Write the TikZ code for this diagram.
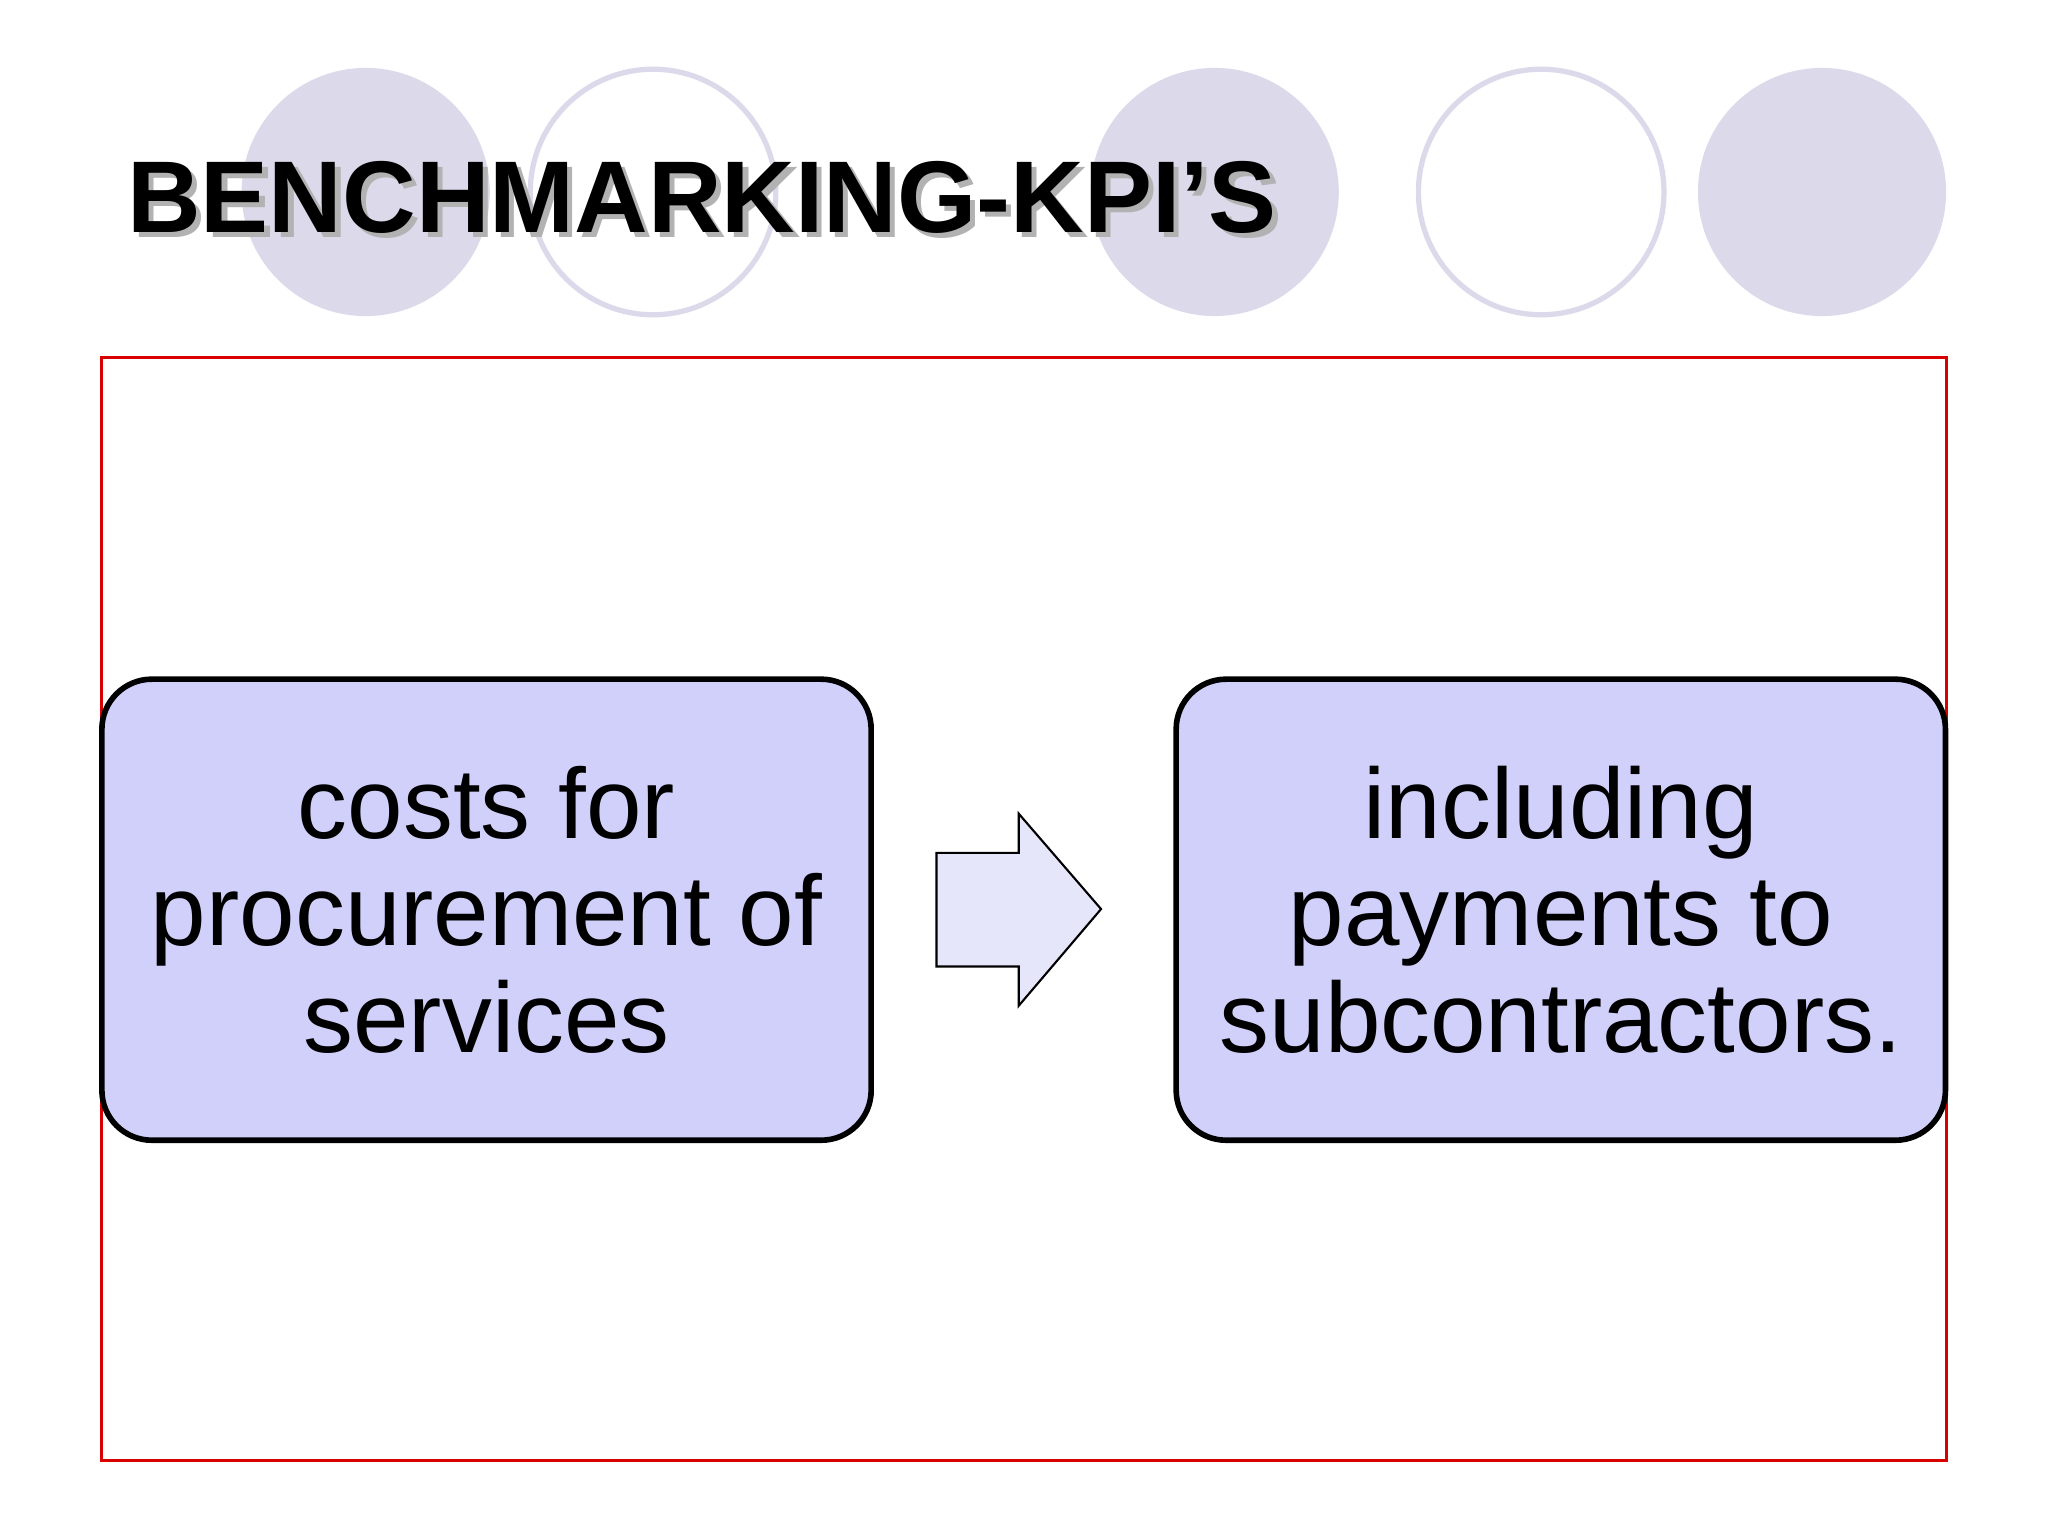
\documentclass[tikz,border=0pt]{standalone}
\usepackage{fontspec}
\setmainfont{Liberation Sans}
\definecolor{circ}{HTML}{DCDAEA}
\definecolor{boxfill}{HTML}{D0D0FA}
\definecolor{arrfill}{HTML}{E6E6FA}
\begin{document}
\begin{tikzpicture}[x=0.01306cm,y=-0.01306cm,
  fcirc/.style={circle,fill=circ,minimum size=190*0.01306cm,inner sep=0},
  ocirc/.style={circle,draw=circ,line width=1.5pt,fill=white,minimum size=188*0.01306cm,inner sep=0},
  kbox/.style={draw=black,line width=1.6pt,fill=boxfill,rounded corners=0.5cm,minimum width=589*0.01306cm,minimum height=353*0.01306cm,align=center,font=\fontsize{28.4}{30.5}\selectfont}]
\useasboundingbox (0,0) rectangle (1568,1176);
\fill[white] (0,0) rectangle (1568,1176);
\node[fcirc] (c1) at (280,147) {};
\node[ocirc] (c2) at (500,147) {};
\node[fcirc] (c3) at (930,147) {};
\node[ocirc] (c4) at (1180,147) {};
\node[fcirc] (c5) at (1395,147) {};
\node[anchor=base west,inner sep=0,font=\fontsize{29}{34}\selectfont\bfseries,text=gray!60] at (101,182) {BENCHMARKING-KPI’S};
\node[anchor=base west,inner sep=0,font=\fontsize{29}{34}\selectfont\bfseries] (title) at (97,178) {BENCHMARKING-KPI’S};
\draw[red!85!black,line width=0.8pt] (78,274) rectangle (1490,1118);
\node[kbox] (a) at (372.5,696.5) {costs for\\procurement of\\services};
\node[kbox] (b) at (1195,696.5) {including\\payments to\\subcontractors.};
\draw[fill=arrfill,line width=0.6pt] (717,653) -- (780,653) -- (780,623) -- (843,696) -- (780,770) -- (780,740) -- (717,740) -- cycle;
\end{tikzpicture}
\end{document}
